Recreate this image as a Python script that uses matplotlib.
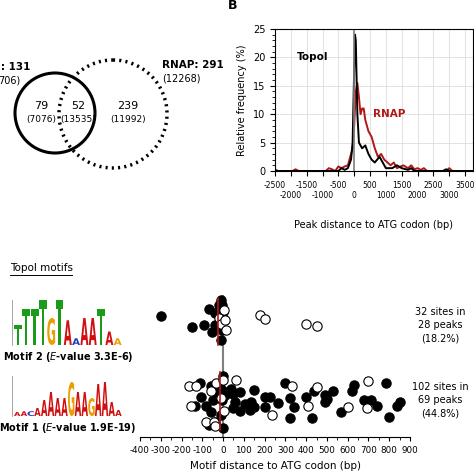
import matplotlib
matplotlib.use("Agg")
import matplotlib.pyplot as plt
from matplotlib.patches import Circle
from matplotlib.textpath import TextPath
from matplotlib.patches import PathPatch
from matplotlib.font_manager import FontProperties
from matplotlib.transforms import Affine2D

# ---- data ----
venn_counts = ["79", "52", "239"]
venn_sub = ["(7076)", "(13535)", "(11992)"]
topo_x = [-2500,-600,-500,-400,-300,-200,-100,-50,0,25,50,100,150,250,350,450,550,650,800,900,1000,1100,1200,1350,1500,1700,1800,1900,2800,2900,3000,3750]
topo_y = [0,0,0,0.5,0.2,0.5,2,5,18,24,23,10,5,4,4.5,3,2,1.5,2.5,1.5,0.5,0.5,0.5,1,0.5,0.2,0.5,0,0,0.3,0,0]
rnap_x = [-2500,-2400,-1950,-1850,-1750,-900,-800,-700,-600,-500,-400,-300,-200,-100,-50,0,50,100,150,200,250,300,350,400,450,550,650,750,850,950,1050,1150,1250,1350,1550,1700,1800,1900,2000,2100,2200,2300,2900,3000,3100,3750]
rnap_y = [0.3,0,0,0.3,0,0,0.5,0.3,0,0.8,0.5,0.8,1,3,4,8,14,15.5,13,10,11,11,9,8,7,6,4,2.5,3,2,1.5,1,1.5,0.5,1,0.5,1,0.3,0.5,0.2,0.5,0,0,0.5,0,0]
b_ticks = list(range(-2500, 4000, 500))

m2_fill = [(-300,316),(-150,327),(-90,325),(-55,332),(-70,309),(-40,313),(-20,305),(-5,305),(0,312),(0,320),(-5,330),(-10,340),(-10,300),(-40,325)]
m2_open = [(-20,318),(-10,324),(10,320),(15,330),(5,310),(180,315),(200,319),(400,324),(450,326)]
m1_fill = [(-110,383),(-105,397),(-135,406),(-80,406),(-60,386),(-50,400),(-40,392),(-60,412),(-70,425),(-40,422),(-15,383),(-5,390),(-5,400),(0,376),(0,428),(-10,415),(10,395),
           (40,389),(50,394),(55,402),(80,392),(150,390),(50,408),(105,404),(135,402),(150,407),(130,410),(80,411),(200,397),(225,397),(200,407),(265,403),(300,383),(320,398),(340,407),(320,418),
           (400,397),(440,391),(490,395),(500,399),(530,391),(490,402),(430,418),(620,391),(630,385),(680,400),(710,400),(740,406),(570,412),(800,417),(785,383),(835,406),(850,402)]
m1_open = [(-165,386),(-130,386),(-60,391),(-35,383),(60,380),(-155,406),(-10,398),(0,380),(330,386),(450,387),(700,381),(410,406),(600,407),(695,408),(235,415),(5,411),(-80,422),(-45,422),(-40,426)]
s_ticks = list(range(-400, 1000, 100))

motif2 = [("T",0.45,"#1a9c1a"),("T",0.8,"#1a9c1a"),("T",0.8,"#1a9c1a"),("T",1.0,"#1a9c1a"),("G",0.6,"#e8a000"),("T",1.0,"#1a9c1a"),("A",0.55,"#d01010"),("A",0.15,"#1f3fbf"),("A",0.6,"#d01010"),("A",0.6,"#d01010"),("T",0.8,"#1a9c1a"),("A",0.3,"#d01010"),("A",0.15,"#e8a000")]
motif1 = [("A",0.1,"#d01010"),("A",0.12,"#d01010"),("C",0.12,"#1f3fbf"),("A",0.2,"#d01010"),("A",0.4,"#d01010"),("A",0.6,"#d01010"),("A",0.45,"#d01010"),("A",0.45,"#d01010"),("G",0.85,"#e8a000"),("A",0.6,"#d01010"),("A",0.6,"#d01010"),("G",0.45,"#e8a000"),("A",0.8,"#d01010"),("A",0.85,"#d01010"),("A",0.35,"#d01010"),("A",0.15,"#d01010")]

W = H = 474
fig = plt.figure(figsize=(4.74, 4.74), dpi=100)
bg = fig.add_axes([0, 0, 1, 1]); bg.set_xlim(0, W); bg.set_ylim(H, 0); bg.axis("off")

# Venn
bg.add_patch(Circle((55, 113), 40, fill=False, lw=2.2, color="black"))
bg.add_patch(Circle((113, 114), 54, fill=False, lw=2.5, ls=(0, (0.6, 1.2)), color="black"))
for (x, c, s) in zip([41, 78, 128], venn_counts, venn_sub):
    bg.text(x, 106, c, ha="center", va="center", fontsize=8)
    bg.text(x, 119, s, ha="center", va="center", fontsize=6.5)
bg.text(-3, 67, "I: 131", ha="left", va="center", fontsize=7.5, weight="bold")
bg.text(-2, 80, "706)", ha="left", va="center", fontsize=7)
bg.text(162, 65, "RNAP: 291", ha="left", va="center", fontsize=7.5, weight="bold")
bg.text(162, 78, "(12268)", ha="left", va="center", fontsize=7)
bg.text(228, 5, "B", ha="left", va="center", fontsize=9, weight="bold")

# Panel B
axb = fig.add_axes([275/W, 1-171/H, 198/W, 142/H])
axb.plot(rnap_x, rnap_y, color="#b01818", lw=1.4)
axb.plot(topo_x, topo_y, color="black", lw=1.4)
axb.axvline(0, color="gray", lw=1.2)
axb.set_xlim(-2500, 3750); axb.set_ylim(0, 25)
axb.set_xticks(b_ticks)
axb.set_xticklabels([(str(t) if i % 2 == 0 else "\n" + str(t)) for i, t in enumerate(b_ticks)], fontsize=5.5)
axb.set_yticks([0,5,10,15,20,25]); axb.tick_params(axis="y", labelsize=7)
axb.set_yticks(range(0, 26, 1), minor=True)
axb.grid(True, color="#dddddd", lw=0.6)
axb.set_ylabel("Relative frequency (%)", fontsize=7)
axb.set_xlabel("Peak distance to ATG codon (bp)", fontsize=7, labelpad=14)
axb.text(-800, 19.5, "Topol", fontsize=7.5, weight="bold", ha="right")
axb.text(600, 9.5, "RNAP", fontsize=7.5, weight="bold", color="#b01818")

# Motifs
bg.text(10, 268, "TopoI motifs", fontsize=7.5, ha="left", va="center")
bg.plot([10, 72], [275, 275], color="black", lw=0.7)
fp = FontProperties(family="DejaVu Sans", weight="bold")
def logo(letters, x0, ybase, width, height):
    lw_ = width / len(letters)
    for i, (ch, h, col) in enumerate(letters):
        tp = TextPath((0, 0), ch, size=1, prop=fp)
        bb = tp.get_extents()
        tr = Affine2D().translate(-bb.x0, -bb.y0).scale(lw_*0.95/bb.width, -h*height/bb.height).translate(x0+i*lw_, ybase)
        bg.add_patch(PathPatch(tr.transform_path(tp), color=col, lw=0))
    bg.plot([x0-2, x0-2], [ybase, ybase-height], color="gray", lw=0.5)
logo(motif2, 14, 345, 108, 45)
logo(motif1, 14, 416, 108, 40)
bg.text(68, 357, r"Motif 2 ($\bf{\it{E}}$-value 3.3E-6)", fontsize=7, weight="bold", ha="center", va="center")
bg.text(68, 428, r"Motif 1 ($\bf{\it{E}}$-value 1.9E-19)", fontsize=7, weight="bold", ha="center", va="center")

# Scatter
axs = fig.add_axes([140/W, 1-437/H, 270/W, 142/H])
axs.set_xlim(-400, 900); axs.set_ylim(437, 295)
for pts, fc in [(m2_fill, "black"), (m1_fill, "black"), (m2_open, "white"), (m1_open, "white")]:
    axs.scatter([p[0] for p in pts], [p[1] for p in pts], s=45, facecolors=fc, edgecolors="black", lw=0.8, zorder=3)
axs.axvline(0, color="gray", lw=1.5, zorder=2)
axs.plot([-25, -25], [298, 345], color="#b01818", lw=1.2, zorder=4)
axs.plot([-15, -15], [372, 430], color="#b01818", lw=1.2, zorder=4)
for s in ["top", "right", "left"]:
    axs.spines[s].set_visible(False)
axs.set_yticks([])
axs.set_xticks(s_ticks); axs.set_xticklabels([str(t) for t in s_ticks], fontsize=6.3)
axs.set_xticks(range(-400, 901, 50), minor=True)
axs.tick_params(axis="x", length=3)
axs.set_xlabel("Motif distance to ATG codon (bp)", fontsize=7.5)
bg.text(440, 325, "32 sites in\n28 peaks\n(18.2%)", fontsize=7, ha="center", va="center", linespacing=1.4)
bg.text(440, 400, "102 sites in\n69 peaks\n(44.8%)", fontsize=7, ha="center", va="center", linespacing=1.4)

fig.savefig("out.png", dpi=100)
